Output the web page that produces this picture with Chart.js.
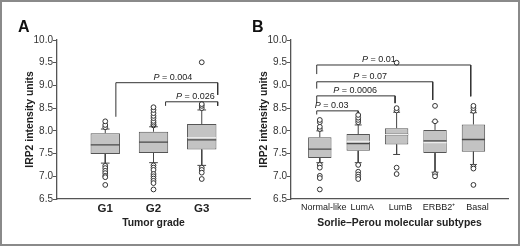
<!DOCTYPE html>
<html><head><meta charset="utf-8">
<script src="https://cdn.jsdelivr.net/npm/chart.js@4.4.1/dist/chart.umd.min.js"></script>
<style>
html,body{margin:0;padding:0;background:#fff;}
#wrap{position:relative;width:520px;height:246px;overflow:hidden;background:#fff;}
#frame{position:absolute;left:0;top:0;width:520px;height:246px;box-sizing:border-box;border:2px solid #8a8a8a;pointer-events:none;}
.pl{position:absolute;font:bold 16px "Liberation Sans",Arial,sans-serif;line-height:16px;color:#111;}
canvas{position:absolute;top:0;}
</style></head>
<body>
<div id="wrap">
<canvas id="ca" width="260" height="246" style="left:0px"></canvas>
<canvas id="cb" width="286" height="246" style="left:234px"></canvas>
<div class="pl" style="left:18px;top:19px">A</div>
<div class="pl" style="left:252px;top:19px">B</div>
<div id="frame"></div>
</div>
<script>
// ---------- Panel A data ----------
const A_CATS = ['G1', 'G2', 'G3'];
const A_Q1   = [7.49, 7.51, 7.59];
const A_MED  = [7.69, 7.75, 7.80];
const A_Q3   = [7.95, 7.98, 8.15];
const A_LO   = [7.29, 7.30, 7.24];
const A_HI   = [8.04, 8.09, 8.46];
const A_MEAN = [null, null, 7.85];
const A_OUT  = [
  [8.08, 8.13, 8.21, 7.23, 7.18, 7.12, 7.07, 7.01, 6.98, 6.81],
  [8.12, 8.14, 8.18, 8.22, 8.28, 8.33, 8.39, 8.46, 8.52, 7.24, 7.19, 7.14, 7.05, 7.00, 6.95, 6.90, 6.85, 6.71],
  [8.50, 8.55, 8.59, 9.51, 7.19, 7.14, 7.08, 6.94]
];
const A_BRACKETS = [
  {x1: 1.22, y1: 8.31, x2: 3.33, y2: 8.79, level: 9.06, p: '0.004', lx: 2.40},
  {x1: 2.25, y1: 8.55, x2: 3.33, y2: 8.55, level: 8.64, p: '0.026', lx: 2.87}
];

// ---------- Panel B data ----------
const B_CATS = ['Normal-like', 'LumA', 'LumB', 'ERBB2\u207A', 'Basal'];
const B_Q1   = [7.40, 7.56, 7.70, 7.51, 7.54];
const B_MED  = [7.60, 7.72, 7.92, 7.78, 7.81];
const B_Q3   = [7.86, 7.93, 8.06, 8.02, 8.14];
const B_LO   = [7.30, 7.30, 7.48, 7.09, 7.26];
const B_HI   = [8.00, 8.13, 8.41, 8.20, 8.40];
const B_MEAN = [null, 7.77, 7.92, 7.74, null];
const B_OUT  = [
  [8.04, 8.09, 8.19, 8.24, 7.25, 7.19, 7.01, 6.96, 6.71],
  [8.19, 8.24, 8.29, 8.35, 7.25, 7.10, 7.04, 6.99, 6.94],
  [8.45, 8.50, 9.50, 7.19, 7.05],
  [8.21, 8.55, 7.05, 7.00],
  [8.44, 8.50, 8.55, 7.21, 7.17, 6.81]
];
const B_BRACKETS = [
  {x1: 0.92, y1: 9.25, x2: 4.93, y2: 8.76, level: 9.45, p: '0.01',   lx: 2.54},
  {x1: 0.92, y1: 8.93, x2: 3.94, y2: 8.68, level: 9.08, p: '0.07',   lx: 2.31},
  {x1: 0.92, y1: 8.62, x2: 2.96, y2: 8.61, level: 8.77, p: '0.0006', lx: 1.92},
  {x1: 0.92, y1: 8.36, x2: 2.00, y2: 8.39, level: 8.44, p: '0.03',   lx: 1.31}
];

const Y_TICKS = [6.5, 7.0, 7.5, 8.0, 8.5, 9.0, 9.5, 10.0];

const FF = '"Liberation Sans", Arial, Helvetica, sans-serif';
Chart.defaults.font.family = FF;
Chart.defaults.color = '#222';

const HALF = 0.30;   // box half width in category units
const CAP = 0.09;    // whisker cap half width

function segs(list) {
  const pts = [];
  list.forEach(s => { pts.push({x: s[0], y: s[1]}, {x: s[2], y: s[3]}, {x: s[2], y: null}); });
  return pts;
}

function pPlugin(brackets) {
  return {
    id: 'pvals',
    afterDatasetsDraw(chart) {
      const ctx = chart.ctx, xs = chart.scales.x, ys = chart.scales.y;
      ctx.save();
      ctx.fillStyle = '#222';
      ctx.textBaseline = 'alphabetic';
      brackets.forEach(b => {
        const fi = 'italic 9px ' + FF, fr = '9px ' + FF;
        const rest = ' = ' + b.p;
        ctx.font = fi; const wP = ctx.measureText('P').width;
        ctx.font = fr; const wR = ctx.measureText(rest).width;
        const cx = xs.getPixelForValue(b.lx);
        const y = ys.getPixelForValue(b.level) - 3;
        const x0 = cx - (wP + wR) / 2;
        ctx.font = fi; ctx.textAlign = 'left'; ctx.fillText('P', x0, y);
        ctx.font = fr; ctx.fillText(rest, x0 + wP, y);
      });
      ctx.restore();
    }
  };
}

function makePanel(id, d) {
  const boxes = d.cats.map((c, i) => ({x: i + 1, y: [d.q1[i], d.q3[i]]}));
  const wh = [];
  d.cats.forEach((c, i) => {
    const x = i + 1;
    wh.push([x, d.q3[i], x, d.hi[i]], [x - CAP, d.hi[i], x + CAP, d.hi[i]],
            [x, d.q1[i], x, d.lo[i]], [x - CAP, d.lo[i], x + CAP, d.lo[i]]);
  });
  const med = d.cats.map((c, i) => [i + 1 - HALF, d.med[i], i + 1 + HALF, d.med[i]]);
  const mean = [];
  d.cats.forEach((c, i) => { if (d.mean[i] != null) mean.push([i + 1 - HALF, d.mean[i], i + 1 + HALF, d.mean[i]]); });
  const outs = [];
  d.out.forEach((arr, i) => arr.forEach(v => outs.push({x: i + 1, y: v})));
  const br = [];
  d.brackets.forEach(b => {
    br.push({x: b.x1, y: b.y1}, {x: b.x1, y: b.level}, {x: b.x2, y: b.level}, {x: b.x2, y: b.y2}, {x: b.x2, y: null});
  });
  const lineDs = (data, color, width, order) => ({
    type: 'line', data, borderColor: color, borderWidth: width, pointRadius: 0,
    fill: false, spanGaps: false, tension: 0, order
  });
  new Chart(document.getElementById(id), {
    type: 'scatter',
    data: {
      datasets: [
        {type: 'bar', data: boxes, backgroundColor: '#c3c3c3', borderColor: '#555', borderWidth: 1,
         borderSkipped: false, categoryPercentage: 1, barPercentage: 0.61, order: 6},
        lineDs(segs(wh), '#444', 1, 5),
        lineDs(segs(med), '#4a4a4a', 1.3, 4),
        lineDs(segs(mean), '#ececec', 1.2, 3),
        {type: 'scatter', data: outs, pointStyle: 'circle', pointRadius: 2.4, backgroundColor: '#fff',
         borderColor: '#333', borderWidth: 1, order: 2},
        lineDs(br, '#333', 1, 1)
      ]
    },
    options: {
      responsive: false, animation: false, events: [],
      layout: {padding: {top: 40, right: d.padRight, bottom: 0, left: 0}},
      plugins: {legend: {display: false}, tooltip: {enabled: false}},
      scales: {
        x: {
          type: 'linear', min: d.xMin, max: d.xMax, offset: false,
          afterBuildTicks: s => { s.ticks = d.cats.map((c, i) => ({value: i + 1})); },
          ticks: {callback: v => d.cats[Math.round(v) - 1] || '', font: d.tickFont, color: '#222',
                  padding: 3, maxRotation: 0, minRotation: 0, autoSkip: false, labelOffset: d.labelOffset},
          grid: {display: false, drawTicks: false},
          border: {display: true, color: '#555', width: 1.3},
          title: {display: true, text: d.xTitle, font: {size: 10.4, weight: 'bold'}, color: '#222',
                  padding: {top: 0, bottom: 17}},
          afterFit: s => { s.height = 47; }
        },
        y: {
          type: 'linear', min: 6.5, max: 10.0,
          afterBuildTicks: s => { s.ticks = Y_TICKS.map(v => ({value: v})); },
          ticks: {callback: v => v.toFixed(1), font: {size: 10}, color: '#333', padding: 0},
          grid: {display: true, drawOnChartArea: false, drawTicks: true, tickLength: 4, color: '#555'},
          border: {display: true, color: '#555', width: 1.3},
          title: {display: true, text: 'IRP2 intensity units', font: {size: 10.4, weight: 'bold'}, color: '#222',
                  padding: {top: 23.7, bottom: 0}},
          afterFit: s => { s.width = 57; }
        }
      }
    },
    plugins: [pPlugin(d.brackets)]
  });
}

makePanel('ca', {cats: A_CATS, q1: A_Q1, med: A_MED, q3: A_Q3, lo: A_LO, hi: A_HI, mean: A_MEAN, out: A_OUT,
  brackets: A_BRACKETS, xMin: 0, xMax: 4, padRight: 10, labelOffset: 0,
  tickFont: {size: 11.5, weight: 'bold'}, xTitle: 'Tumor grade'});
makePanel('cb', {cats: B_CATS, q1: B_Q1, med: B_MED, q3: B_Q3, lo: B_LO, hi: B_HI, mean: B_MEAN, out: B_OUT,
  brackets: B_BRACKETS, xMin: 0.25, xMax: 5.9, padRight: 12, labelOffset: 4,
  tickFont: {size: 9}, xTitle: 'Sorlie\u2013Perou molecular subtypes'});
</script>
</body></html>
